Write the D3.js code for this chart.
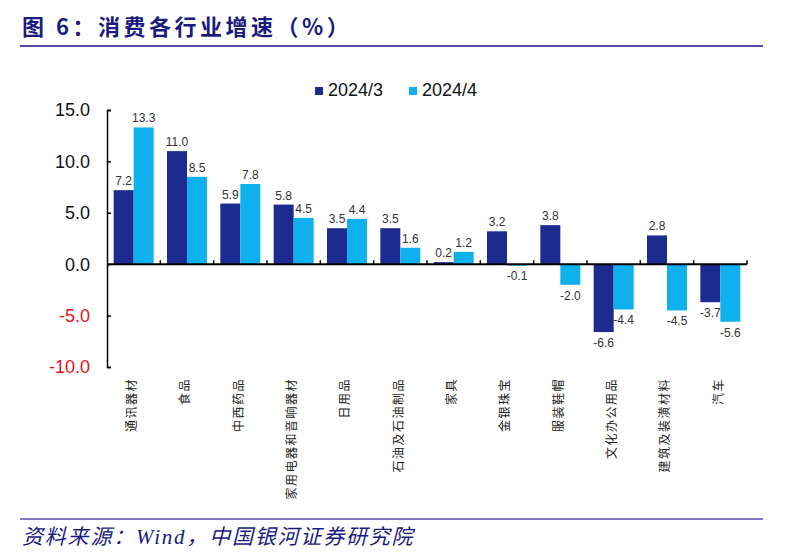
<!DOCTYPE html>
<html>
<head>
<meta charset="utf-8">
<script src="https://cdn.jsdelivr.net/npm/d3@7"></script>
<style>
  body { margin: 0; background: #fff; }
  svg { display: block; }
</style>
</head>
<body>
<div id="chart"></div>
<script>
const width = 787
const height = 559

const categories = ["通讯器材", "食品", "中西药品", "家用电器和音响器材", "日用品", "石油及石油制品",
    "家具", "金银珠宝", "服装鞋帽", "文化办公用品", "建筑及装潢材料", "汽车"]
const seriesNames = ["2024/3", "2024/4"]
const march = [7.2, 11.0, 5.9, 5.8, 3.5, 3.5, 0.2, 3.2, 3.8, -6.6, 2.8, -3.7]
const april = [13.3, 8.5, 7.8, 4.5, 4.4, 1.6, 1.2, -0.1, -2.0, -4.4, -4.5, -5.6]
const yTicks = [15, 10, 5, 0, -5, -10]

const colors = ["#1c2b8f", "#0fb0ee"]
const navy = "#1a1a80"

const svg = d3.select("#chart").append("svg").attr("width", width).attr("height", height)

// title + rule
svg.append("text")
    .attr("x", 22).attr("y", 35)
    .attr("font-family", "'Noto Sans CJK SC', sans-serif")
    .attr("font-weight", "bold")
    .attr("font-size", 22)
    .attr("letter-spacing", 3.5)
    .attr("fill", navy)
    .text("图 6：消费各行业增速（%）")

svg.append("line")
    .attr("x1", 20).attr("x2", 763).attr("y1", 46).attr("y2", 46)
    .attr("stroke", "#1d0e8c").attr("stroke-width", 1.5)

// scales
const x = d3.scaleBand().domain(categories).range([107, 747]).paddingInner(0.25).paddingOuter(0.125)
const xSub = d3.scaleBand().domain(seriesNames).range([0, x.bandwidth()])
const y = d3.scaleLinear().domain([-10, 15]).range([367, 110])

const data = categories.map((c, i) => ({ cat: c, values: [march[i], april[i]] }))

// bars
const groups = svg.append("g").selectAll("g")
    .data(data)
    .join("g")
    .attr("transform", d => `translate(${x(d.cat)},0)`)

groups.selectAll("rect")
    .data(d => d.values.map((v, k) => ({ v, k })))
    .join("rect")
    .attr("x", d => xSub(seriesNames[d.k]))
    .attr("width", xSub.bandwidth())
    .attr("y", d => y(Math.max(0, d.v)))
    .attr("height", d => Math.max(1.5, Math.abs(y(d.v) - y(0))))
    .attr("fill", d => colors[d.k])

// value labels
groups.selectAll("text")
    .data(d => d.values.map((v, k) => ({ v, k })))
    .join("text")
    .attr("x", d => xSub(seriesNames[d.k]) + xSub.bandwidth() / 2)
    .attr("y", d => d.v >= 0 ? y(d.v) - 5 : y(d.v) + 15)
    .attr("text-anchor", "middle")
    .attr("font-family", "'Liberation Sans', Arial, sans-serif")
    .attr("font-size", 12)
    .attr("fill", "#333")
    .text(d => d.v.toFixed(1))

// y axis
const yAxis = svg.append("g")
    .attr("transform", "translate(107,0)")
    .call(d3.axisRight(y).tickValues(yTicks).tickSize(4).tickFormat(""))
yAxis.select(".domain").attr("stroke", "#000").attr("stroke-width", 1.5)
yAxis.selectAll(".tick line").attr("stroke", "#000").attr("stroke-width", 1.5)

svg.append("g").selectAll("text")
    .data(yTicks)
    .join("text")
    .attr("x", 90)
    .attr("y", d => y(d))
    .attr("dy", "0.35em")
    .attr("text-anchor", "end")
    .attr("font-family", "'Liberation Sans', Arial, sans-serif")
    .attr("font-size", 18)
    .attr("fill", d => d < 0 ? "#e8141c" : "#111")
    .text(d => d.toFixed(1))

// x axis at zero
const boundaries = categories.map(c => x(c) - x.step() * x.paddingInner() / 2).concat([747])
svg.append("line")
    .attr("x1", 107).attr("x2", 747).attr("y1", y(0)).attr("y2", y(0))
    .attr("stroke", "#000").attr("stroke-width", 2)
svg.append("g").selectAll("line")
    .data(boundaries.slice(1))
    .join("line")
    .attr("x1", d => d).attr("x2", d => d)
    .attr("y1", y(0)).attr("y2", y(0) - 4)
    .attr("stroke", "#000").attr("stroke-width", 1.5)

// category labels, rotated
svg.append("g").selectAll("text")
    .data(categories)
    .join("text")
    .attr("transform", d => `translate(${x(d) + x.bandwidth() / 2 - 2},378) rotate(-90)`)
    .attr("dy", "0.35em")
    .attr("text-anchor", "end")
    .attr("font-family", "'Noto Sans CJK SC', sans-serif")
    .attr("font-size", 12)
    .attr("letter-spacing", 1.5)
    .attr("fill", "#222")
    .text(d => d)

// legend
const legendX = [315, 409]
const legend = svg.append("g").selectAll("g")
    .data(seriesNames)
    .join("g")
    .attr("transform", (d, i) => `translate(${legendX[i]},87)`)
legend.append("rect").attr("width", 8).attr("height", 8).attr("fill", (d, i) => colors[i])
legend.append("text")
    .attr("x", 13).attr("y", 9)
    .attr("font-family", "'Liberation Sans', Arial, sans-serif")
    .attr("font-size", 18)
    .attr("fill", "#111")
    .text(d => d)

// footer
svg.append("line")
    .attr("x1", 20).attr("x2", 763).attr("y1", 519).attr("y2", 519)
    .attr("stroke", "#8478c4").attr("stroke-width", 2)

svg.append("text")
    .attr("x", 22).attr("y", 544)
    .attr("font-family", "'Liberation Serif', 'Noto Sans CJK SC', serif")
    .attr("font-style", "italic")
    .attr("font-size", 21)
    .attr("letter-spacing", 1.8)
    .attr("fill", navy)
    .text("资料来源：Wind，中国银河证券研究院")
</script>
</body>
</html>
